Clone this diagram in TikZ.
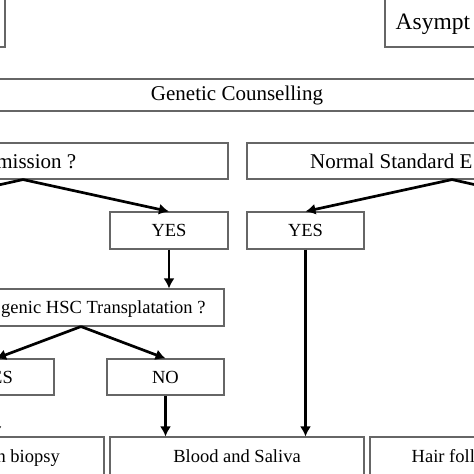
\documentclass[tikz,border=0pt]{standalone}
\usepackage{fontspec}
\setmainfont{Liberation Serif}
\usetikzlibrary{arrows.meta,calc,positioning}
\tikzset{%
	box/.style    = {draw=black!60, line width=1.1pt, rectangle, inner sep=0pt, text centered},
	tag/.style    = {inner sep=0pt},
	arrow/.style  = {line width=2.7pt, -{Latex[length=10pt,width=11pt]}},
	small/.style  = {font=\fontsize{18.5}{20}\selectfont},
	big/.style    = {font=\fontsize{21}{24}\selectfont},
	bigger/.style = {font=\fontsize{23.5}{26}\selectfont},
}
\begin{document}
\begin{tikzpicture}[x=1pt,y=-1pt]
	\useasboundingbox (0,0) rectangle (474,474);
	\clip (0,0) rectangle (474,474);
	% top row
	\node[box, minimum width=105pt, minimum height=57pt] (patient) at (-47.5,18.5) {};
	\node[box, minimum width=175pt, minimum height=50pt] (asym) at (472.5,22) {};
	\node[tag, bigger, anchor=base west] (asymtxt) at (395.5,29.5) {Asympt};
	\node[box, big, minimum width=494pt, minimum height=32pt] (gc) at (237,95) {Genetic Counselling};
	% second row
	\node[box, minimum width=410pt, minimum height=36pt] (rem) at (23,161) {};
	\node[tag, big, anchor=base east] (remtxt) at (76.5,168.5) {mission ?};
	\node[box, minimum width=410pt, minimum height=36pt] (nsb) at (452,161) {};
	\node[tag, big, anchor=base west] (nsbtxt) at (310,168.5) {Normal Standard E};
	\coordinate (remleft) at (-123,212);
	\coordinate (nsbright) at (597,212);
	% answers
	\node[box, small, minimum width=118pt, minimum height=37pt] (yes1) at (169,230.5) {YES};
	\node[box, small, minimum width=117pt, minimum height=37pt] (yes2) at (305.5,230.5) {YES};
	\node[box, minimum width=286pt, minimum height=37pt] (hsc) at (81,307.5) {};
	\node[tag, small, anchor=base west] (hsctxt) at (1,313.5) {genic HSC Transplatation ?};
	\node[box, minimum width=116pt, minimum height=36pt] (yes3) at (-4,377) {};
	\node[tag, small, anchor=base east] (yes3txt) at (13,383) {ES};
	\node[box, small, minimum width=117pt, minimum height=36pt] (no) at (165.5,377) {NO};
	% samples
	\node[box, minimum width=304pt, minimum height=39pt] (skin) at (-48,456.5) {};
	\node[tag, small, anchor=base east] (skintxt) at (60,462) {n biopsy};
	\node[box, small, minimum width=254pt, minimum height=39pt] (blood) at (237,456.5) {Blood and Saliva};
	\node[box, minimum width=330pt, minimum height=39pt] (hair) at (535,456.5) {};
	\node[tag, small, anchor=base west] (hairtxt) at (411.5,462) {Hair foll};
	% connectors
	\draw[arrow] (rem.south) -- (remleft);
	\draw[arrow] (rem.south) -- (yes1.north);
	\draw[arrow] (nsb.south) -- (yes2.north);
	\draw[arrow] (nsb.south) -- (nsbright);
	\draw[arrow] (yes1.south) -- (yes1.south |- hsc.north);
	\draw[arrow] (hsc.south) -- (yes3.north);
	\draw[arrow] (hsc.south) -- (no.north);
	\draw[arrow] (yes3.south) -- (yes3.south |- skin.north);
	\draw[arrow] (no.south) -- (no.south |- blood.north);
	\draw[arrow] (yes2.south) -- (yes2.south |- blood.north);
\end{tikzpicture}
\end{document}
